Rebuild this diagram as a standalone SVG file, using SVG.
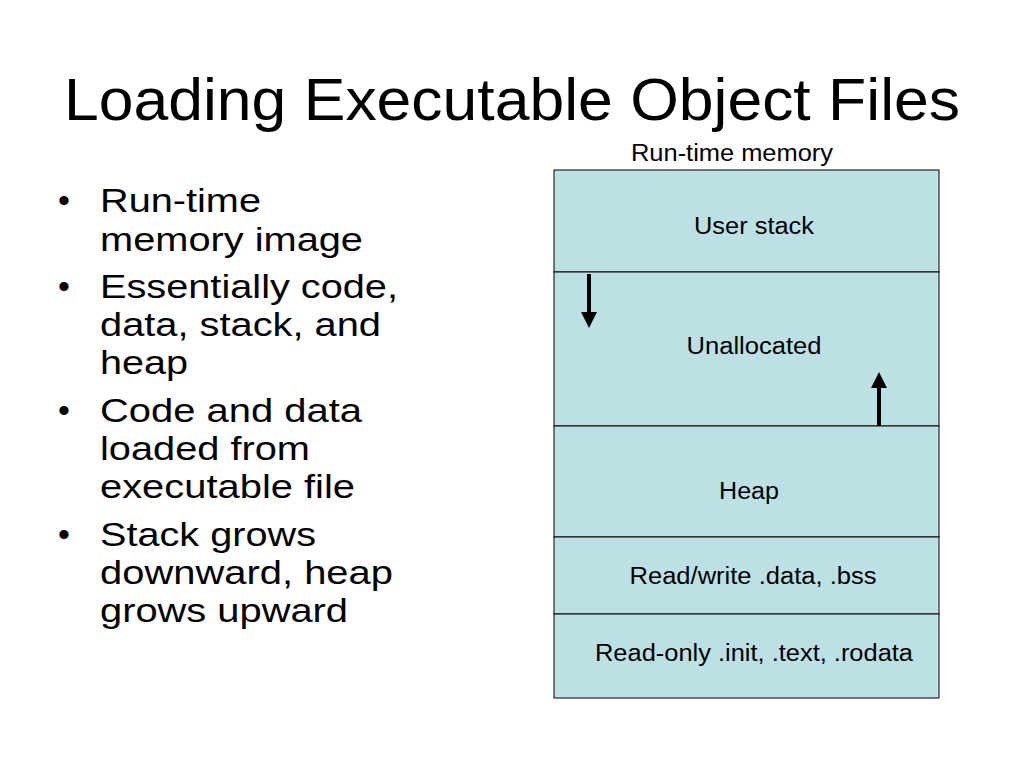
<svg xmlns="http://www.w3.org/2000/svg" width="1024" height="768" viewBox="0 0 1024 768">
<style>
text{font-family:"Liberation Sans",Arial,sans-serif;fill:#000}
.b{font-size:34px}
.s{font-size:23px;text-anchor:middle}
.seg{fill:#BDE0E4;stroke:#000;stroke-width:1}
</style>
<defs><marker id="ah" markerWidth="4" markerHeight="4" refX="2" refY="2" orient="auto"><path d="M0,0L4,2L0,4z" fill="#000"/></marker></defs>
<rect width="1024" height="768" fill="#fff"/>
<text x="64" y="120" font-size="60" textLength="896" lengthAdjust="spacingAndGlyphs">Loading Executable Object Files</text>
<g id="bullets">
<text class="b" x="58" y="212">•</text><text class="b" x="100" y="212" textLength="161" lengthAdjust="spacingAndGlyphs">Run-time</text><text class="b" x="100" y="251" textLength="263" lengthAdjust="spacingAndGlyphs">memory image</text>
<text class="b" x="58" y="298">•</text><text class="b" x="100" y="298" textLength="298" lengthAdjust="spacingAndGlyphs">Essentially code,</text><text class="b" x="100" y="336" textLength="281" lengthAdjust="spacingAndGlyphs">data, stack, and</text><text class="b" x="100" y="374" textLength="88" lengthAdjust="spacingAndGlyphs">heap</text>
<text class="b" x="58" y="422">•</text><text class="b" x="100" y="422" textLength="262" lengthAdjust="spacingAndGlyphs">Code and data</text><text class="b" x="100" y="460" textLength="210" lengthAdjust="spacingAndGlyphs">loaded from</text><text class="b" x="100" y="498" textLength="255" lengthAdjust="spacingAndGlyphs">executable file</text>
<text class="b" x="58" y="546">•</text><text class="b" x="100" y="546" textLength="216" lengthAdjust="spacingAndGlyphs">Stack grows</text><text class="b" x="100" y="584" textLength="293" lengthAdjust="spacingAndGlyphs">downward, heap</text><text class="b" x="100" y="622" textLength="248" lengthAdjust="spacingAndGlyphs">grows upward</text>
</g>
<text class="s" x="732" y="161" font-size="22" textLength="202" lengthAdjust="spacingAndGlyphs">Run-time memory</text>
<g id="stack"><rect class="seg" x="554" y="170" width="385" height="102"/><text class="s" x="754" y="234" textLength="120" lengthAdjust="spacingAndGlyphs">User stack</text></g>
<g id="unalloc"><rect class="seg" x="554" y="272" width="385" height="154"/><text class="s" x="754" y="354" textLength="135" lengthAdjust="spacingAndGlyphs">Unallocated</text></g>
<g id="heap"><rect class="seg" x="554" y="426" width="385" height="111"/><text class="s" x="749" y="499" textLength="60" lengthAdjust="spacingAndGlyphs">Heap</text></g>
<g id="rw"><rect class="seg" x="554" y="537" width="385" height="77"/><text class="s" x="753" y="584" textLength="247" lengthAdjust="spacingAndGlyphs">Read/write .data, .bss</text></g>
<g id="ro"><rect class="seg" x="554" y="614" width="385" height="84"/><text class="s" x="754" y="661" textLength="318" lengthAdjust="spacingAndGlyphs">Read-only .init, .text, .rodata</text></g>
<g id="connectors" stroke="#000" stroke-width="4">
<line x1="589" y1="274" x2="589" y2="320" marker-end="url(#ah)"/>
<line x1="879" y1="426" x2="879" y2="380" marker-end="url(#ah)"/>
</g>
</svg>
